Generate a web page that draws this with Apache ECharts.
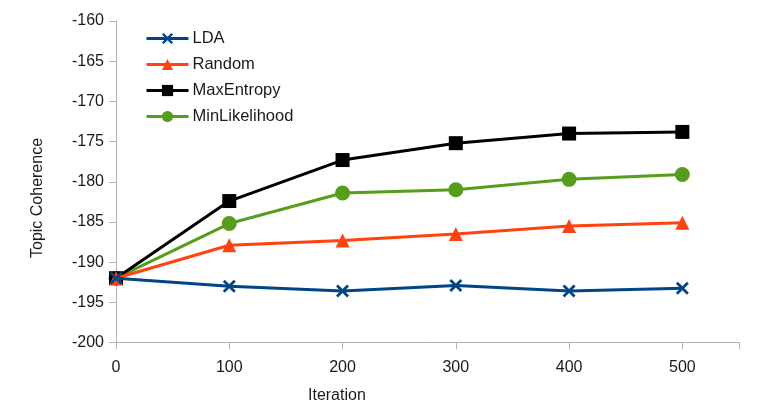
<!DOCTYPE html>
<html><head><meta charset="utf-8">
<script src="https://cdn.jsdelivr.net/npm/echarts@6/dist/echarts.min.js"></script>
<style>html,body{margin:0;padding:0;background:#fff}#c{width:766px;height:419px}</style>
</head><body><div id="c"></div>
<script>
const iterations = [0, 100, 200, 300, 400, 500];
const ldaValues = [-192, -193.0, -193.6, -192.9, -193.6, -193.25];
const randomValues = [-192, -187.9, -187.3, -186.5, -185.5, -185.1];
const maxEntropyValues = [-192, -182.4, -177.3, -175.2, -174.0, -173.8];
const minLikelihoodValues = [-192, -185.2, -181.4, -181.0, -179.7, -179.1];
const seriesNames = ['LDA', 'Random', 'MaxEntropy', 'MinLikelihood'];
const xAxisTitle = 'Iteration';
const yAxisTitle = 'Topic Coherence';

const font = '"Liberation Sans", Arial, sans-serif';
const crossPath = 'path://M0,1.5L1.5,0L5,3.5L8.5,0L10,1.5L6.5,5L10,8.5L8.5,10L5,6.5L1.5,10L0,8.5L3.5,5Z';
const colors = ['#004586', '#ff420e', '#000000', '#579d1c'];
const symbols = [crossPath, 'triangle', 'rect', 'circle'];
const sizes = [13, 14, 14, 15];
const valueSets = [ldaValues, randomValues, maxEntropyValues, minLikelihoodValues];

const chart = echarts.init(document.getElementById('c'));
chart.setOption({
  animation: false,
  textStyle: { fontFamily: font },
  grid: { left: 116, right: 27, top: 21, bottom: 76.5, containLabel: false },
  legend: {
    orient: 'vertical', left: 140, top: 25, itemGap: 9,
    itemWidth: 42, itemHeight: 14,
    lineStyle: { width: 3 },
    textStyle: { fontFamily: font, fontSize: 16.5, color: '#1a1a1a', padding: [0, 0, 0, -1] },
    data: seriesNames
  },
  xAxis: {
    type: 'value', min: 0, max: 550, interval: 100,
    axisLine: { show: true, lineStyle: { color: '#b3b3b3', width: 1 } },
    axisTick: { show: true, length: 7, lineStyle: { color: '#b3b3b3' } },
    splitLine: { show: false },
    axisLabel: { fontFamily: font, fontSize: 16, color: '#1a1a1a', margin: 17,
      formatter: v => (v % 100 === 0 ? String(v) : '') }
  },
  yAxis: {
    type: 'value', min: -200, max: -160, interval: 5,
    axisLine: { show: true, lineStyle: { color: '#b3b3b3', width: 1 } },
    axisTick: { show: true, length: 7, lineStyle: { color: '#b3b3b3' } },
    splitLine: { show: false },
    axisLabel: { fontFamily: font, fontSize: 16, color: '#1a1a1a', margin: 12 }
  },
  graphic: [
    { type: 'text', left: 308, top: 388, style: { text: xAxisTitle, font: '16px ' + font, fill: '#1a1a1a' } },
    { type: 'text', x: 30, y: 258, rotation: Math.PI / 2, style: { text: yAxisTitle, font: '16px ' + font, fill: '#1a1a1a' } }
  ],
  series: seriesNames.map((name, i) => ({
    name, type: 'line',
    data: iterations.map((x, j) => [x, valueSets[i][j]]),
    symbol: symbols[i], symbolSize: sizes[i], showSymbol: true,
    lineStyle: { color: colors[i], width: 3 },
    itemStyle: { color: colors[i] },
    z: 10 - i
  }))
});
</script></body></html>
